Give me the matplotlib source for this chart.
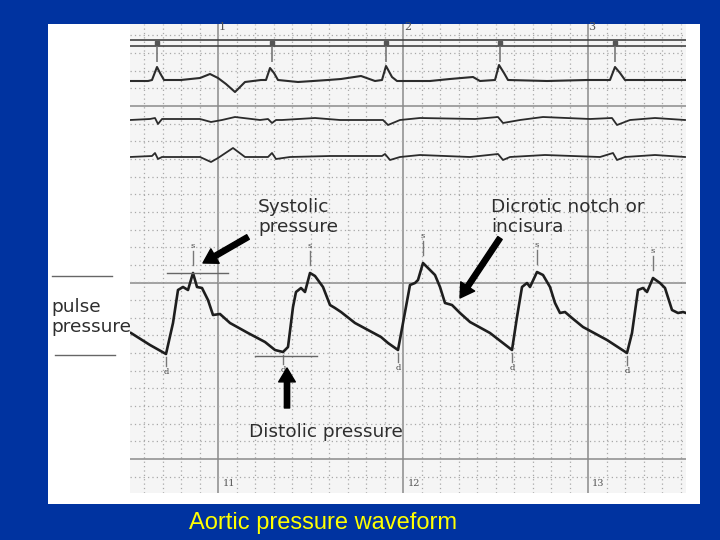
import matplotlib
matplotlib.use("Agg")
import matplotlib.pyplot as plt
import numpy as np

# slide colours
BLUE = "#0033a0"
INK = "#2b2b2b"

# chart-paper grid (positions measured on the 720x540 slide)
major_x = [218, 403, 588]
major_y = [106, 283, 459]
beat_marks_x = [157, 272, 386, 500, 615]
double_line_y = [40, 46]
top_numbers = ["1", "2", "3"]
top_numbers_x = [222, 408, 592]
bottom_numbers = ["11", "12", "13"]
bottom_numbers_x = [229, 414, 598]

# ECG / reference traces
ecg1_x = [130, 148, 152, 157, 160, 164, 181, 200, 210, 218, 226, 235, 245, 261, 266,
          270, 274, 278, 298, 328, 341, 361, 375, 382, 386, 392, 397, 430, 450, 473,
          480, 495, 499, 504, 508, 547, 587, 610, 615, 620, 625, 663, 685]
ecg1_y = [81, 81, 80, 67, 73, 80, 80, 78, 74, 78, 84, 92, 82, 80, 80,
          68, 73, 80, 82, 80, 79, 76, 81, 80, 66, 77, 81, 81, 79, 77,
          81, 80, 65, 73, 80, 81, 80, 80, 67, 73, 80, 80, 80]
ecg2_x = [130, 150, 155, 158, 162, 200, 211, 222, 235, 260, 268, 272, 276, 282, 315,
          340, 383, 388, 400, 420, 475, 498, 503, 520, 543, 590, 612, 617, 630, 655, 685]
ecg2_y = [120, 119, 118, 124, 119, 119, 122, 120, 117, 120, 119, 123, 120, 120, 118,
          120, 120, 125, 120, 118, 119, 117, 123, 120, 117, 119, 118, 125, 120, 118, 120]
ecg3_x = [130, 152, 155, 158, 162, 200, 211, 218, 233, 245, 268, 272, 276, 290, 330,
          382, 385, 390, 400, 420, 470, 498, 503, 510, 545, 600, 613, 617, 625, 655, 685]
ecg3_y = [157, 156, 153, 159, 157, 157, 162, 158, 148, 157, 157, 153, 159, 157, 156,
          156, 154, 160, 157, 155, 157, 154, 160, 157, 155, 157, 153, 160, 157, 155, 157]

# aortic pressure trace
pressure_x = [131, 150, 166, 173, 178, 183, 188, 193, 197, 202, 208, 213, 220, 230, 248,
              265, 275, 283, 288, 293, 296, 301, 305, 310, 315, 323, 330, 335, 341, 355,
              381, 388, 398, 403, 410, 415, 418, 423, 428, 435, 440, 445, 452, 460, 470,
              490, 512, 517, 522, 527, 530, 537, 543, 550, 555, 560, 565, 572, 583, 607,
              627, 632, 638, 643, 647, 653, 660, 665, 672, 678, 683, 686]
pressure_y = [333, 345, 354, 323, 290, 287, 290, 273, 287, 288, 300, 315, 314, 323, 333,
              342, 350, 352, 347, 307, 292, 288, 292, 273, 276, 287, 305, 308, 312, 323,
              337, 343, 350, 323, 285, 283, 280, 263, 268, 275, 287, 303, 305, 313, 322,
              333, 350, 317, 287, 283, 287, 272, 275, 287, 303, 313, 312, 318, 327, 340,
              353, 333, 290, 288, 292, 278, 283, 288, 310, 313, 312, 313]
systolic_x = [193, 310, 423, 537, 653]
systolic_y = [273, 273, 263, 272, 278]
diastolic_x = [166, 283, 398, 512, 627]
diastolic_y = [354, 352, 350, 350, 353]

fig = plt.figure(figsize=(7.2, 5.4), dpi=100, facecolor=BLUE)

# white panel behind the strip
panel = fig.add_axes([48 / 720, 1 - 504 / 540, 652 / 720, 480 / 540])
panel.set_facecolor("white")
panel.set_xticks([])
panel.set_yticks([])
for s in panel.spines.values():
    s.set_visible(False)

# the chart paper
ax = fig.add_axes([130 / 720, 1 - 493 / 540, 556 / 720, 469 / 540])
ax.set_facecolor("#f5f5f5")
ax.set_xlim(130, 686)
ax.set_ylim(493, 24)
ax.set_xticks(major_x)
ax.set_yticks(major_y)
ax.set_xticks(np.arange(144, 686, 18.5), minor=True)
ax.set_yticks(np.arange(35.4, 493, 17.65), minor=True)
ax.tick_params(which="both", length=0, labelbottom=False, labelleft=False)
ax.grid(which="minor", color="#a8a8a8", linestyle=(0, (1, 2.5)), lw=0.9)
ax.grid(which="major", color="#8a8a8a", lw=1.1)
for s in ax.spines.values():
    s.set_visible(False)

for yy in double_line_y:
    ax.plot([130, 686], [yy, yy], color="#444", lw=1.2)
ax.vlines(beat_marks_x, 46, 62, color="#777", lw=1.2)
ax.plot(beat_marks_x, [43] * len(beat_marks_x), "s", ms=2.5, color="#555")

for lbl, xx in zip(top_numbers, top_numbers_x):
    ax.text(xx, 27, lbl, ha="center", va="center", fontsize=8, family="serif", color="#555")
for lbl, xx in zip(bottom_numbers, bottom_numbers_x):
    ax.text(xx, 483, lbl, ha="center", va="center", fontsize=7, family="serif", color="#555")

ax.plot(ecg1_x, ecg1_y, color=INK, lw=1.5)
ax.plot(ecg2_x, ecg2_y, color=INK, lw=1.3)
ax.plot(ecg3_x, ecg3_y, color=INK, lw=1.3)
ax.plot(pressure_x, pressure_y, color="#1e1e1e", lw=1.9)

# s / d markers
for xx, yy in zip(systolic_x, systolic_y):
    ax.plot([xx, xx], [yy - 22, yy - 8], color="#777", lw=1)
    ax.text(xx, yy - 27, "s", ha="center", va="center", fontsize=6, family="serif", color="#444")
for xx, yy in zip(diastolic_x, diastolic_y):
    ax.plot([xx, xx], [yy + 3, yy + 12], color="#777", lw=1)
    ax.text(xx, yy + 18, "d", ha="center", va="center", fontsize=6, family="serif", color="#444")

# reference levels
ax.plot([167, 228], [systolic_y[0]] * 2, color="#666", lw=1)
ax.plot([255, 317], [diastolic_y[0] + 2] * 2, color="#666", lw=1)
ax.plot([52, 112], [276, 276], color="#666", lw=1, clip_on=False)
ax.plot([55, 115], [355, 355], color="#666", lw=1, clip_on=False)

font = dict(family="DejaVu Sans", fontsize=13.3, color="#2e2e2e")
ax.text(51, 317, "pulse\npressure", ha="left", va="center", linespacing=1.08, **font)
ax.text(258, 217, "Systolic\npressure", ha="left", va="center", linespacing=1.08, **font)
ax.text(491, 217, "Dicrotic notch or\nincisura", ha="left", va="center", linespacing=1.08, **font)
ax.text(249, 432, "Distolic pressure", ha="left", va="center", **font)

arrow = dict(arrowstyle="simple,head_length=1.0,head_width=1.2,tail_width=0.38",
             color="black", mutation_scale=10, shrinkA=0, shrinkB=0)
ax.annotate("", xy=(203, 263), xytext=(248, 237), arrowprops=arrow)
ax.annotate("", xy=(460, 298), xytext=(500, 238), arrowprops=arrow)
ax.annotate("", xy=(287, 368), xytext=(287, 408), arrowprops=arrow)

fig.text(323 / 720, 1 - 523 / 540, "Aortic pressure waveform", ha="center", va="center",
         fontsize=17, family="Liberation Sans", color="#ffff00")

fig.savefig("out.png", dpi=100, facecolor=BLUE)
